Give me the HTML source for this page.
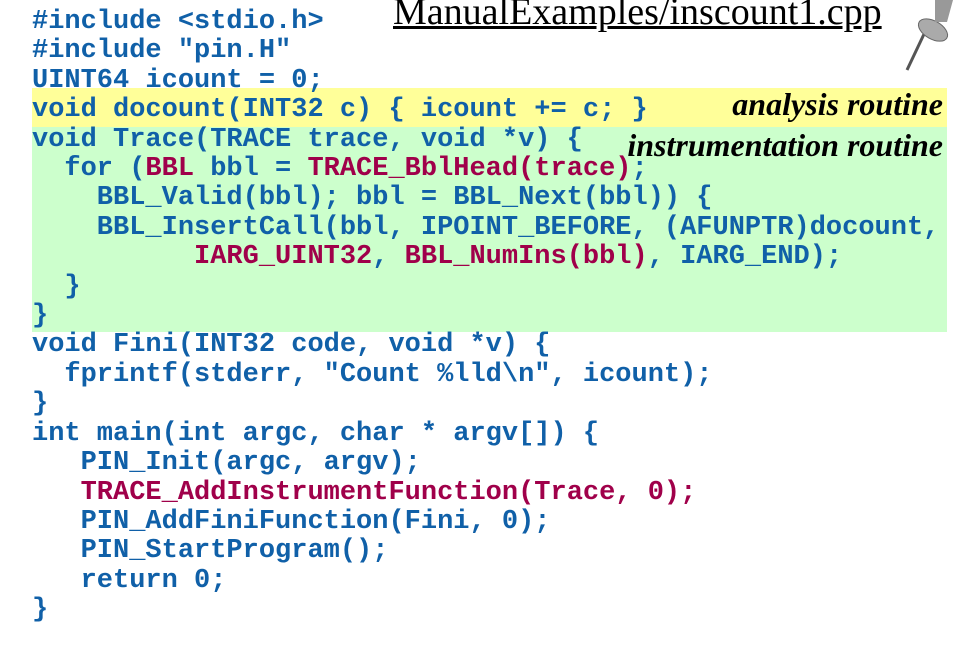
<!DOCTYPE html>
<html><head><meta charset="utf-8"><style>
body{margin:0;width:966px;height:645px;background:#fff;position:relative;overflow:hidden}
.code{position:absolute;left:32px;top:8px;font:bold 27px/29.4px "Liberation Mono",monospace;color:#1060a8;white-space:pre;margin:0}
.r{color:#a0004a}
.y{position:absolute;left:32px;top:88px;width:915px;height:39px;background:#ffff99}
.g{position:absolute;left:32px;top:127px;width:915px;height:205px;background:#ccffcc}
.t{position:absolute;left:393px;top:-10px;font:38px "Liberation Serif",serif;text-decoration:underline;white-space:nowrap}
.l{position:absolute;right:23px;font:bold italic 32px "Liberation Serif",serif;white-space:nowrap}
</style></head><body>
<div class="y"></div><div class="g"></div>
<div class="t">ManualExamples/inscount1.cpp</div>
<svg style="position:absolute;left:895px;top:0" width="60" height="75">
<line x1="30" y1="32" x2="12" y2="70" stroke="#555" stroke-width="3"/>
<ellipse cx="38" cy="30" rx="16" ry="9" fill="#aaa" stroke="#666" transform="rotate(30 38 30)"/>
<path d="M40 0 L58 0 L52 22 L40 22Z" fill="#999"/>
</svg>
<pre class="code">#include &lt;stdio.h&gt;
#include "pin.H"
UINT64 icount = 0;
void docount(INT32 c) { icount += c; }
void Trace(TRACE trace, void *v) {
  for (<span class="r">BBL</span> bbl = <span class="r">TRACE_BblHead(trace)</span>;
    BBL_Valid(bbl); bbl = BBL_Next(bbl)) {
    BBL_InsertCall(bbl, IPOINT_BEFORE, (AFUNPTR)docount,
          <span class="r">IARG_UINT32</span>, <span class="r">BBL_NumIns(bbl)</span>, IARG_END);
  }
}
void Fini(INT32 code, void *v) {
  fprintf(stderr, "Count %lld\n", icount);
}
int main(int argc, char * argv[]) {
   PIN_Init(argc, argv);
   <span class="r">TRACE_AddInstrumentFunction(Trace, 0);</span>
   PIN_AddFiniFunction(Fini, 0);
   PIN_StartProgram();
   return 0;
}</pre>
<div class="l" style="top:86px">analysis routine</div>
<div class="l" style="top:127px">instrumentation routine</div>
</body></html>
